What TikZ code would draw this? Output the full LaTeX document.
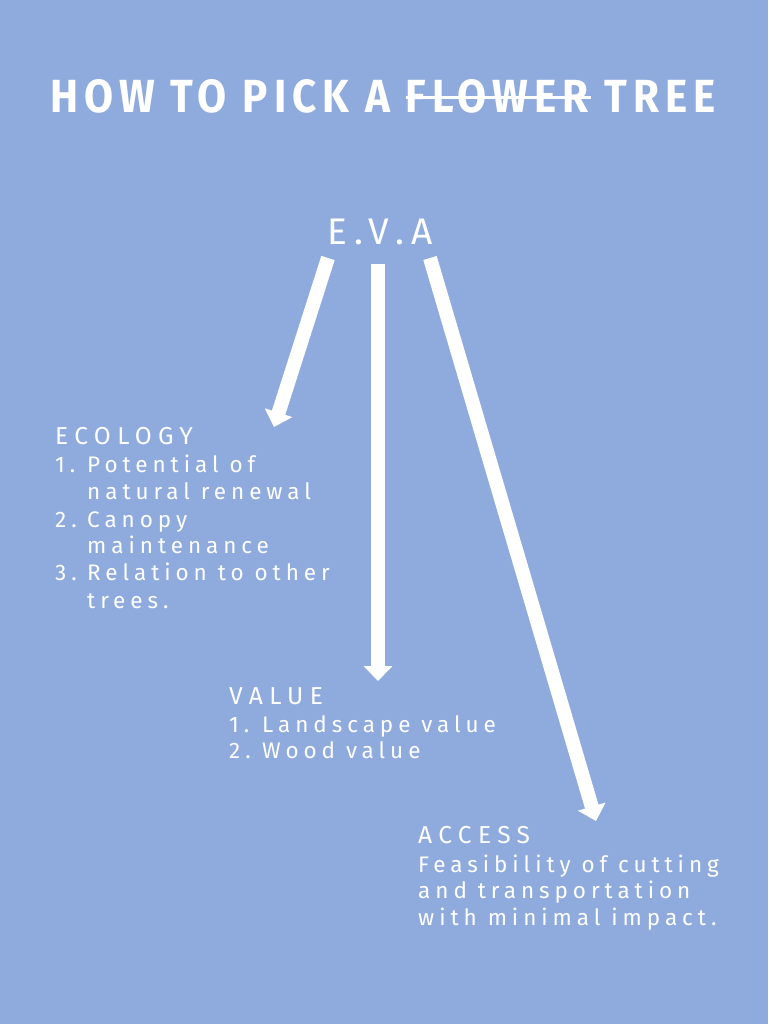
\documentclass[tikz,border=0pt]{standalone}
\usepackage{fontspec}
\usepackage{graphicx}
\usetikzlibrary{arrows.meta}
\setmainfont{Fira Sans}
\newfontfamily\titlefont[LetterSpace=14]{Fira Sans}
\newfontfamily\bodyfont[LetterSpace=22]{Fira Sans}
\newfontfamily\headfont[LetterSpace=26]{Fira Sans}
\newfontfamily\evafont[LetterSpace=20]{Fira Sans}
\definecolor{bg}{HTML}{8FAADC}
\newcommand\strk[1]{\setbox0\hbox{#1}\rlap{\rule[0.42\ht0]{\dimexpr\wd0+0.05em\relax}{0.06em}}\box0\relax}
\tikzset{
  head/.style={anchor=base west, inner sep=0pt, text=white, font=\headfont\fontsize{24.5}{28}\selectfont},
  item/.style={anchor=base west, inner sep=0pt, text=white, font=\bodyfont\fontsize{22.5}{27}\selectfont},
  bigarrow/.style={draw=white, line width=14pt, line cap=butt, -{Triangle[width=28pt,length=15pt]}}
}
\begin{document}
\begin{tikzpicture}[x=1pt,y=-1pt]
\fill[bg] (0,0) rectangle (768,1024);
\useasboundingbox (0,0) rectangle (768,1024);
% title
\node[anchor=base west, inner sep=0pt, text=white] (title) at (50,113)
  {\resizebox{665pt}{33pt}{\titlefont\bfseries HOW\ TO\ PICK\ A\ \strk{FLOWER}\ TREE}};
% EVA
\node[anchor=base, inner sep=0pt, text=white, font=\evafont\fontsize{37}{40}\selectfont] (eva) at (380,244) {E.V.A};
% arrow anchors
\coordinate (sE) at (328,258);
\coordinate (tE) at (274,427);
\coordinate (sV) at (378,264);
\coordinate (tV) at (378,681);
\coordinate (sA) at (430,258);
\coordinate (tA) at (596,821);
\draw[bigarrow] (sE) -- (tE);
\draw[bigarrow] (sV) -- (tV);
\draw[bigarrow] (sA) -- (tA);
% ECOLOGY
\node[head] (eco) at (55,444) {ECOLOGY};
\node[item] (e1n) at (55,472) {1.};
\node[item] (e1) at (87,472) {Potential of};
\node[item] (e1b) at (87,499) {natural renewal};
\node[item] (e2n) at (55,527) {2.};
\node[item] (e2) at (87,527) {Canopy};
\node[item] (e2b) at (87,553) {maintenance};
\node[item] (e3n) at (55,580) {3.};
\node[item] (e3) at (87,580) {Relation to other};
\node[item] (e3b) at (87,608) {trees.};
% VALUE
\node[head] (val) at (229,704) {VALUE};
\node[item] (v1n) at (229,732) {1.};
\node[item] (v1) at (262,732) {Landscape value};
\node[item] (v2n) at (229,758) {2.};
\node[item] (v2) at (262,758) {Wood value};
% ACCESS
\node[head] (acc) at (418,843) {ACCESS};
\node[item] (a1) at (418,872) {Feasibility of cutting};
\node[item] (a2) at (418,898) {and transportation};
\node[item] (a3) at (418,925) {with minimal impact.};
\end{tikzpicture}
\end{document}
